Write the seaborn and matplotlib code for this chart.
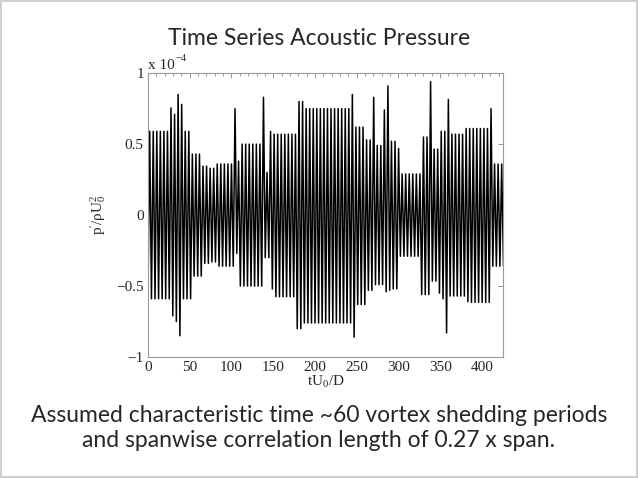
import numpy as np
import pandas as pd
import seaborn as sns
import matplotlib.pyplot as plt
from matplotlib.ticker import MultipleLocator

# Peak values (x 1e-4) for each shedding cycle
peaks = [0.59, 0.59, 0.59, 0.59, 0.59, 0.59, 0.755, 0.71, 0.85, 0.78,
         0.59, 0.59, 0.43, 0.43, 0.43, 0.345, 0.345, 0.33, 0.33, 0.36,
         0.36, 0.36, 0.36, 0.36, 0.75, 0.38, 0.50, 0.50, 0.50, 0.50,
         0.50, 0.50, 0.83, 0.30, 0.59, 0.57, 0.57, 0.57, 0.57, 0.57,
         0.57, 0.57, 0.80, 0.80, 0.75, 0.75, 0.75, 0.75, 0.75, 0.75,
         0.75, 0.75, 0.75, 0.75, 0.75, 0.75, 0.75, 0.85, 0.62, 0.62,
         0.62, 0.53, 0.53, 0.83, 0.49, 0.49, 0.74, 0.91, 0.52, 0.52,
         0.47, 0.29, 0.29, 0.29, 0.29, 0.29, 0.29, 0.55, 0.55, 0.94,
         0.465, 0.465, 0.59, 0.59, 0.815, 0.57, 0.57, 0.57, 0.57, 0.61,
         0.61, 0.61, 0.61, 0.61, 0.61, 0.61, 0.75, 0.36, 0.36, 0.36]

# Trough values: one before the first peak, then one after every peak
troughs = [-0.59, -0.59, -0.59, -0.59, -0.59, -0.59, -0.59, -0.71, -0.75, -0.85,
           -0.59, -0.59, -0.59, -0.43, -0.43, -0.43, -0.34, -0.34, -0.33, -0.33,
           -0.36, -0.36, -0.36, -0.36, -0.36, -0.27, -0.50, -0.50, -0.50, -0.50,
           -0.50, -0.50, -0.50, -0.30, -0.30, -0.52, -0.575, -0.575, -0.575, -0.575,
           -0.575, -0.575, -0.80, -0.80, -0.76, -0.76, -0.76, -0.76, -0.76, -0.76,
           -0.76, -0.76, -0.76, -0.76, -0.76, -0.76, -0.76, -0.76, -0.86, -0.63,
           -0.63, -0.63, -0.53, -0.53, -0.49, -0.49, -0.49, -0.54, -0.53, -0.52,
           -0.52, -0.29, -0.29, -0.29, -0.29, -0.29, -0.29, -0.56, -0.56, -0.56,
           -0.465, -0.465, -0.55, -0.59, -0.83, -0.57, -0.57, -0.57, -0.57, -0.57,
           -0.61, -0.615, -0.615, -0.615, -0.615, -0.615, -0.615, -0.36, -0.36, -0.36,
           -0.36]

period = 4.26      # tU0/D per shedding cycle
t_first = 2.0      # time of first peak

x_ticks = [0, 50, 100, 150, 200, 250, 300, 350, 400]
y_ticks = [-1, -0.5, 0, 0.5, 1]
y_tick_labels = ["\u22121", "\u22120.5", "0", "0.5", "1"]

title = "Time Series Acoustic Pressure"
caption = ("Assumed characteristic time ~60 vortex shedding periods\n"
           "and spanwise correlation length of 0.27 x span.")

# interleave troughs and peaks
vals = [troughs[0]]
for p, tr in zip(peaks, troughs[1:]):
    vals += [p, tr]
times = t_first - period / 2 + np.arange(len(vals)) * period / 2
df = pd.DataFrame({"t": times, "p": vals})

sns.set_style("white")
plt.rcParams["mathtext.fontset"] = "custom"
plt.rcParams["mathtext.rm"] = "Liberation Serif"
plt.rcParams["mathtext.it"] = "Liberation Serif:italic"

fig = plt.figure(figsize=(6.38, 4.78), dpi=100)
fig.patch.set_edgecolor("#cfcfcf")
fig.patch.set_linewidth(1.5)
ax = fig.add_axes([0.232, 0.253, 0.556, 0.594])

sns.lineplot(data=df, x="t", y="p", color="black", linewidth=1.1,
             estimator=None, sort=False, ax=ax)

ax.set_xlim(0, 425)
ax.set_ylim(-1, 1)
ax.set_xticks(x_ticks)
ax.set_xticklabels([str(v) for v in x_ticks], family="Liberation Serif", fontsize=11)
ax.xaxis.set_minor_locator(MultipleLocator(10))
ax.set_yticks(y_ticks)
ax.set_yticklabels(y_tick_labels, family="Liberation Serif", fontsize=11)
ax.tick_params(which="both", direction="in", top=True, right=True,
               color="#888888", width=0.6)
ax.tick_params(which="major", length=3.5, pad=3)
ax.tick_params(which="minor", length=2)
for s in ax.spines.values():
    s.set_visible(True)
    s.set_color("#999999")
    s.set_linewidth(0.8)

ax.set_xlabel(r"$\mathrm{tU_0/D}$", fontsize=11, labelpad=-0.5)
ax.set_ylabel(r"$\mathrm{p'/\rho U_0^2}$", fontsize=11, labelpad=6)

ax.text(0.0, 1.005, "x 10", transform=ax.transAxes, ha="left", va="bottom",
        family="Liberation Serif", fontsize=11)
ax.text(0.078, 1.035, "\u22124", transform=ax.transAxes, ha="left", va="bottom",
        family="Liberation Serif", fontsize=7.5)

fig.text(0.5, 0.92, title, ha="center", va="center", family="Lato", fontsize=16.5)
fig.text(0.5, 0.105, caption, ha="center", va="center", family="Lato",
         fontsize=16.5, linespacing=1.25)

fig.savefig("out.png", dpi=100)
